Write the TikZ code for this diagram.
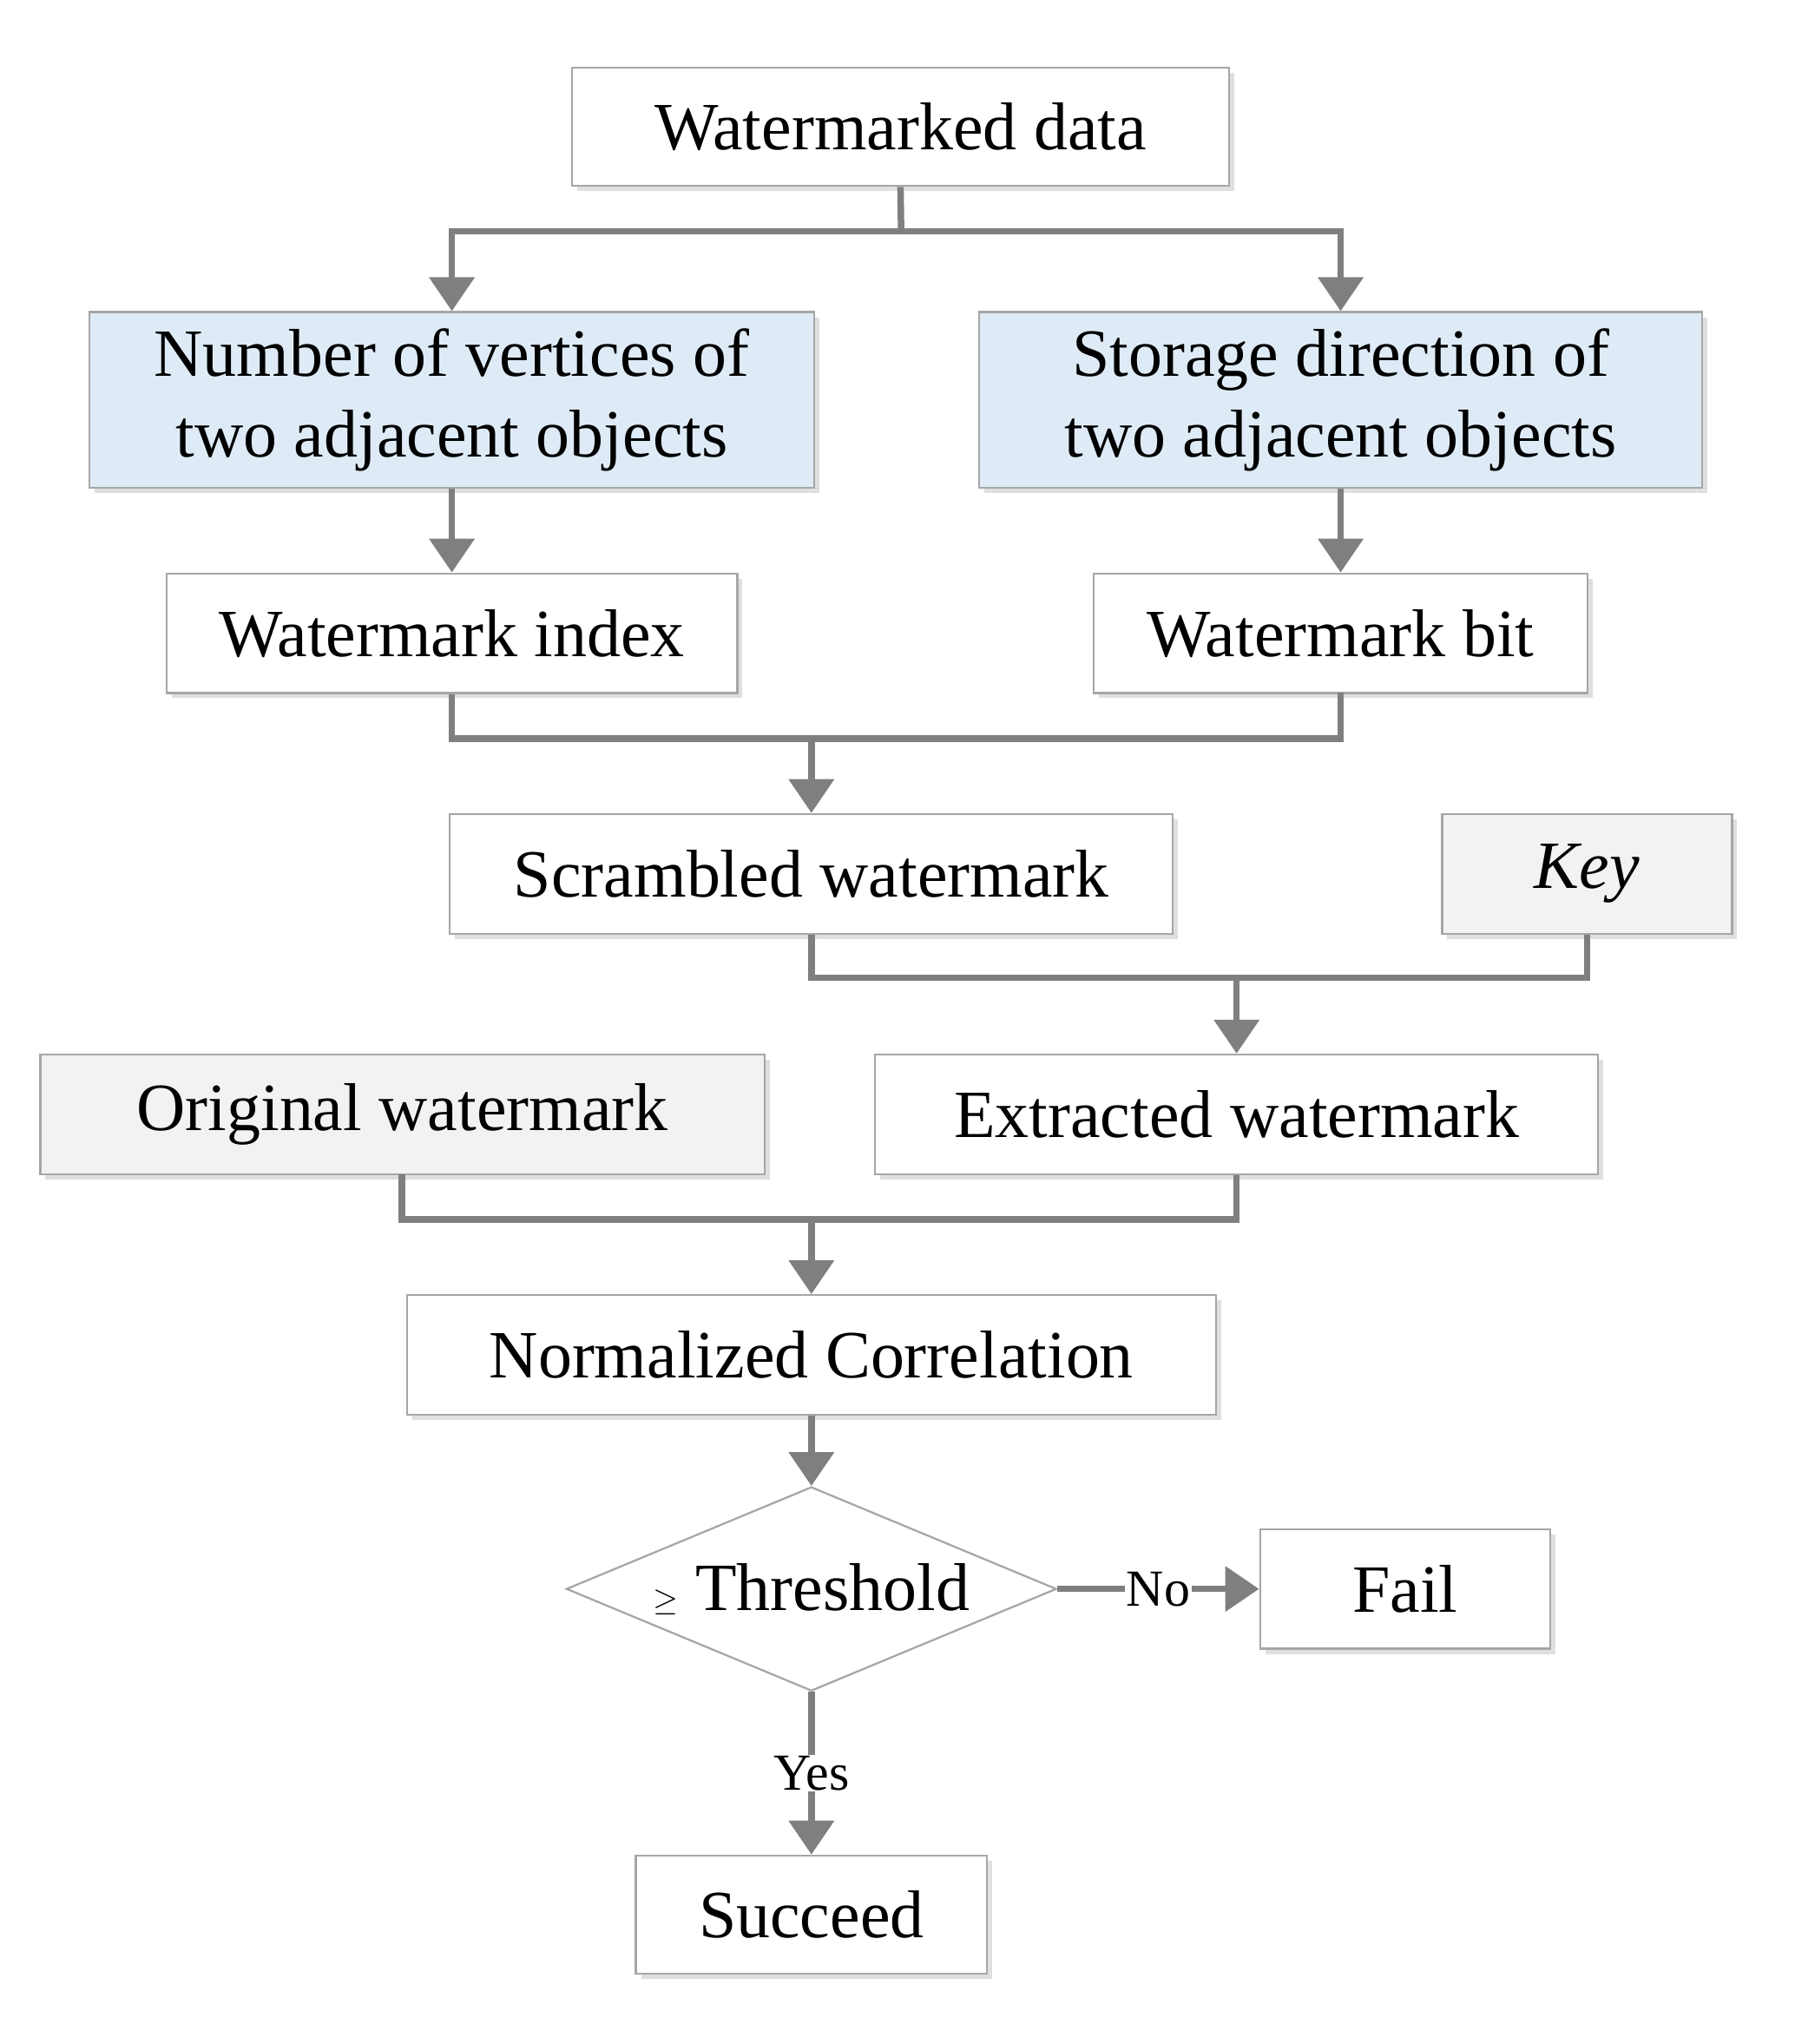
\documentclass[tikz,border=0pt]{standalone}
\usepackage{fontspec}
\setmainfont{Liberation Serif}
\usetikzlibrary{shapes.geometric,arrows.meta,shadows}
\definecolor{lb}{HTML}{DEEBF7}
\definecolor{lg}{HTML}{F2F2F2}
\definecolor{ln}{HTML}{7F7F7F}
\definecolor{bd}{HTML}{A6A6A6}
\begin{document}
\begin{tikzpicture}[x=1pt,y=-1pt,
 box/.style={draw=bd,line width=1.5pt,fill=white,inner sep=0pt,font=\fontsize{52}{62}\selectfont,align=center,
   drop shadow={shadow xshift=4pt,shadow yshift=-4pt,opacity=0.25}},
 con/.style={draw=ln,line width=5pt},
 arr/.style={con,-{Triangle[length=26pt,width=34pt]}},
 lab/.style={font=\fontsize{40}{48}\selectfont,fill=white,inner sep=1pt}]
\useasboundingbox (0,0) rectangle (1380,1572);
\newcommand\bx[6]{\node[box,#6,minimum width=#4-#2,minimum height=#5-#3] (#1) at ({(#2+#4)/2},{(#3+#5)/2})}
\bx{wd}{440}{52}{945}{143}{}{Watermarked data};
\bx{nv}{69}{240}{626}{375}{fill=lb}{Number of vertices of\\two adjacent objects};
\bx{sd}{753}{240}{1309}{375}{fill=lb}{Storage direction of\\two adjacent objects};
\bx{wi}{128}{441}{567}{533}{}{Watermark index};
\bx{wb}{841}{441}{1221}{533}{}{Watermark bit};
\bx{sw}{346}{626}{902}{718}{}{Scrambled watermark};
\bx{key}{1109}{626}{1332}{718}{fill=lg}{\itshape Key};
\bx{ow}{31}{811}{588}{903}{fill=lg}{Original watermark};
\bx{ew}{673}{811}{1229}{903}{}{Extracted watermark};
\bx{nc}{313}{996}{935}{1088}{}{Normalized Correlation};
\node[diamond,draw=bd,line width=1.5pt,fill=white,minimum width=377pt,minimum height=157pt,aspect=2.4,inner sep=0pt,font=\fontsize{52}{62}\selectfont] (th) at (624,1222) {};
\node[font=\fontsize{52}{62}\selectfont] at (624,1222) {$\geq$ Threshold};
\bx{fail}{969}{1176}{1192}{1268}{}{Fail};
\bx{suc}{489}{1427}{759}{1518}{}{Succeed};
\coordinate (j1) at (693,178);
\draw[con] (wd.south) -- (j1);
\draw[arr] (j1) -| (nv.north);
\draw[arr] (j1) -| (sd.north);
\draw[arr] (nv.south) -- (wi.north);
\draw[arr] (sd.south -| wb.north) -- (wb.north);
\coordinate (j2) at (624,568);
\draw[con] (wi.south) |- (j2) -| (1031,533);
\draw[arr] (j2) -- (sw.north);
\coordinate (j3) at (951,752);
\draw[con] (sw.south) |- (j3) -| (key.south);
\draw[arr] (j3) -- (ew.north);
\coordinate (j4) at (624,938);
\draw[con] (309,903) |- (j4) -| (ew.south);
\draw[arr] (j4) -- (nc.north);
\draw[arr] (nc.south) -- (th.north);
\draw[arr] (th.east) -- node[lab]{No} (fail.west);
\draw[arr] (th.south) -- node[lab]{Yes} (suc.north);
\end{tikzpicture}
\end{document}
